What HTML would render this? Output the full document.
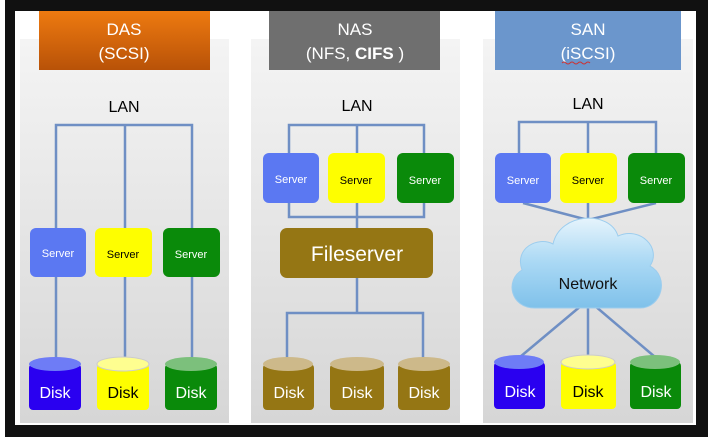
<!DOCTYPE html>
<html><head><style>body{margin:0;background:#fff}svg{display:block}</style></head><body>
<svg width="718" height="447" viewBox="0 0 718 447" xmlns="http://www.w3.org/2000/svg" font-family="Liberation Sans, sans-serif">
<defs>
<linearGradient id="pg" x1="0" y1="0" x2="0" y2="1"><stop offset="0" stop-color="#f4f4f4"/><stop offset="1" stop-color="#d6d6d6"/></linearGradient>
<linearGradient id="og" x1="0" y1="0" x2="0" y2="1"><stop offset="0" stop-color="#ee7a10"/><stop offset="1" stop-color="#b85208"/></linearGradient>
<linearGradient id="cg" x1="0" y1="0" x2="0" y2="1"><stop offset="0" stop-color="#e6f4fc"/><stop offset="0.5" stop-color="#a9d8f4"/><stop offset="1" stop-color="#7fc1ea"/></linearGradient>
</defs>
<rect x="0" y="0" width="718" height="447" fill="#fff"/>
<rect x="5" y="0" width="703" height="437" fill="#111"/>
<rect x="15" y="11" width="681" height="414" fill="#fff"/>
<rect x="20" y="39" width="209" height="384" fill="url(#pg)"/>
<rect x="251" y="39" width="209" height="384" fill="url(#pg)"/>
<rect x="483" y="39" width="210" height="384" fill="url(#pg)"/>
<rect x="39" y="11" width="171" height="59" fill="url(#og)"/>
<rect x="269" y="11" width="171" height="59" fill="#6f6f6f"/>
<rect x="495" y="11" width="186" height="59" fill="#6b96cc"/>
<g fill="#fff" font-size="17" text-anchor="middle">
<text x="124" y="35">DAS</text><text x="124" y="59">(SCSI)</text>
<text x="355" y="35">NAS</text><text x="355" y="59">(NFS, <tspan font-weight="bold">CIFS</tspan> )</text>
<text x="588" y="35">SAN</text><text x="588" y="59">(iSCSI)</text>
</g>
<path d="M562 63 q2 -2 4 0 t4 0 t4 0 t4 0 t4 0 t4 0 t4 0" stroke="#c33" fill="none" stroke-width="1"/>
<g font-size="16" text-anchor="middle" fill="#000">
<text x="124" y="112">LAN</text><text x="357" y="111">LAN</text><text x="588" y="109">LAN</text>
</g>
<g stroke="#6f8fc4" stroke-width="2.5" fill="none">
<path d="M56 228 V125 H192 V228 M125 125 V228 M56 277 V358 M125 277 V358 M192 277 V358"/>
<path d="M289 153 V125 H424 V153 M357 125 V153 M289 203 V217 H424 V203 M357 203 V228 M357 278 V313 M287 358 V313 H423 V358"/>
<path d="M519 153 V122 H656 V153 M588 122 V153 M523 203 L588 220 M588 203 V220 M656 203 L588 220 M588 300 L520 357 M588 300 V357 M588 300 L655 357"/>
</g>
<g font-size="11" text-anchor="middle">
<rect x="30" y="228" width="56" height="49" rx="6" fill="#5b78f2"/><text x="58" y="257" fill="#fff">Server</text>
<rect x="95" y="228" width="57" height="49" rx="6" fill="#fefe00"/><text x="123" y="258" fill="#000">Server</text>
<rect x="163" y="228" width="57" height="49" rx="6" fill="#0a8a0a"/><text x="191" y="258" fill="#fff">Server</text>
<rect x="263" y="153" width="56" height="50" rx="6" fill="#5b78f2"/><text x="291" y="183" fill="#fff">Server</text>
<rect x="328" y="153" width="57" height="50" rx="6" fill="#fefe00"/><text x="356" y="184" fill="#000">Server</text>
<rect x="397" y="153" width="57" height="50" rx="6" fill="#0a8a0a"/><text x="425" y="184" fill="#fff">Server</text>
<rect x="495" y="153" width="56" height="50" rx="6" fill="#5b78f2"/><text x="523" y="184" fill="#fff">Server</text>
<rect x="560" y="153" width="57" height="50" rx="6" fill="#fefe00"/><text x="588" y="184" fill="#000">Server</text>
<rect x="628" y="153" width="57" height="50" rx="6" fill="#0a8a0a"/><text x="656" y="184" fill="#fff">Server</text>
</g>
<rect x="280" y="228" width="153" height="50" rx="7" fill="#957614"/>
<text x="357" y="261" font-size="21" fill="#fff" text-anchor="middle">Fileserver</text>
<g>
<path d="M535 308 C510 308 505 280 522 270 C514 248 538 236 553 244 C560 212 610 210 618 236 C640 226 662 248 650 266 C670 277 662 308 640 308 Z" fill="url(#cg)" stroke="#9ccdee"/>
<text x="588" y="289" font-size="16" text-anchor="middle" fill="#111">Network</text>
</g>
<g font-size="16" text-anchor="middle">
<rect x="29" y="364" width="52" height="46" rx="4" fill="#2a00f0"/><ellipse cx="55" cy="364" rx="26" ry="7" fill="#6e7cf6"/><text x="55" y="398" fill="#fff">Disk</text>
<rect x="97" y="364" width="52" height="46" rx="4" fill="#fefe00"/><ellipse cx="123" cy="364" rx="26" ry="7" fill="#fefe90" stroke="#ccc"/><text x="123" y="398" fill="#000">Disk</text>
<rect x="165" y="364" width="52" height="46" rx="4" fill="#0a8a0a"/><ellipse cx="191" cy="364" rx="26" ry="7" fill="#7cc07c"/><text x="191" y="398" fill="#fff">Disk</text>
<rect x="263" y="364" width="51" height="46" rx="4" fill="#957614"/><ellipse cx="288" cy="364" rx="25" ry="7" fill="#cdb98a"/><text x="289" y="398" fill="#fff">Disk</text>
<rect x="330" y="364" width="54" height="46" rx="4" fill="#957614"/><ellipse cx="357" cy="364" rx="27" ry="7" fill="#cdb98a"/><text x="357" y="398" fill="#fff">Disk</text>
<rect x="398" y="364" width="52" height="46" rx="4" fill="#957614"/><ellipse cx="424" cy="364" rx="26" ry="7" fill="#cdb98a"/><text x="424" y="398" fill="#fff">Disk</text>
<rect x="494" y="362" width="51" height="47" rx="4" fill="#2a00f0"/><ellipse cx="519" cy="362" rx="25" ry="7" fill="#6e7cf6"/><text x="520" y="397" fill="#fff">Disk</text>
<rect x="561" y="362" width="55" height="47" rx="4" fill="#fefe00"/><ellipse cx="588" cy="362" rx="27" ry="7" fill="#fefe90" stroke="#ccc"/><text x="588" y="397" fill="#000">Disk</text>
<rect x="630" y="362" width="51" height="47" rx="4" fill="#0a8a0a"/><ellipse cx="655" cy="362" rx="25" ry="7" fill="#7cc07c"/><text x="656" y="397" fill="#fff">Disk</text>
</g>
</svg>
</body></html>
